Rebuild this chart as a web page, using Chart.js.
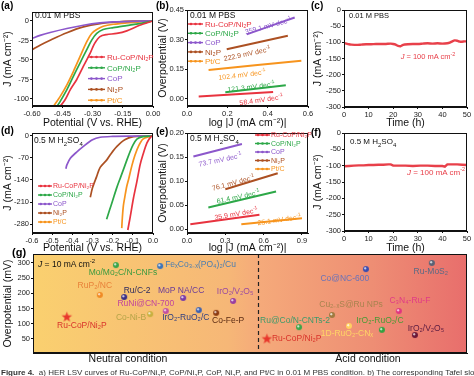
<!DOCTYPE html>
<html><head><meta charset="utf-8">
<script src="https://cdn.jsdelivr.net/npm/chart.js@4.4.1/dist/chart.umd.min.js"></script>
<style>
html,body{margin:0;padding:0;background:#fff;}
body{width:474px;height:376px;overflow:hidden;position:relative;font-family:"Liberation Sans",Arial,sans-serif;}
canvas{position:absolute;}
.t{position:absolute;white-space:nowrap;line-height:1;color:#111;}
.c{transform:translate(-50%,-50%);}
.pl{font-weight:bold;font-size:10px;color:#000;}
</style></head><body>
<script>
// ================= DATA =================
const seriesNames = ['Ru-CoP/Ni₂P', 'CoP/Ni₂P', 'CoP', 'Ni₂P', 'Pt/C'];

// (a) LSV, 0.01 M PBS  [potential (V vs RHE), J (mA cm-2)]
const aRuCoPNi2P = [[0,0],[-0.066,-5.5],[-0.13,-12.7],[-0.18,-16],[-0.23,-17.4],[-0.263,-20],[-0.29,-29],[-0.312,-41.5],[-0.345,-58],[-0.378,-75],[-0.41,-88],[-0.436,-101],[-0.462,-110]];
const aCoPNi2P   = [[0,0],[-0.066,-3.4],[-0.131,-5.9],[-0.197,-8.5],[-0.247,-11],[-0.279,-16],[-0.304,-24.6],[-0.329,-37],[-0.362,-54],[-0.395,-71],[-0.427,-88],[-0.46,-103],[-0.477,-110]];
const aCoP       = [[0,0],[-0.1,-0.4],[-0.2,-1.2],[-0.263,-2.5],[-0.345,-5.5],[-0.427,-9.7],[-0.51,-14.8],[-0.56,-18.5],[-0.6,-22.5]];
const aNi2P      = [[0,0],[-0.1,-0.3],[-0.18,-1.3],[-0.263,-3.4],[-0.345,-7.6],[-0.427,-15],[-0.51,-24.6],[-0.56,-31],[-0.6,-37]];
const aPtC       = [[0,0],[-0.066,-1.3],[-0.131,-2.5],[-0.197,-4.2],[-0.247,-6.8],[-0.279,-11],[-0.304,-16],[-0.329,-26.7],[-0.362,-45.8],[-0.395,-64.8],[-0.427,-81.8],[-0.46,-96.6],[-0.495,-110]];

// (b) Tafel, 0.01 M PBS  [log|J|, overpotential (V)]
const bRuCoPNi2P = [[0.058,0.013],[0.427,0.035]];
const bCoPNi2P   = [[0.19,0.034],[0.49,0.069]];
const bCoP       = [[0.296,0.327],[0.534,0.412]];
const bNi2P      = [[0.197,0.252],[0.50,0.320]];
const bPtC       = [[0.107,0.147],[0.567,0.194]];
const bSlopes    = ['58.4', '121.3', '359.1', '222.9', '102.4'];

// (c) stability, 0.01 M PBS
const cTime = [0,1,2,3,5,7,9,11,13,15,17,19,20,21,22,23,24,26,28,30,32,34,36,38,40,42,43,44,45,46,47,48,49,50];
const cJ    = [-102,-104,-106,-107,-108,-107,-106,-106,-105,-105,-105,-104,-105,-107,-111,-112,-108,-106,-105,-105,-104,-103,-104,-103,-104,-103,-101,-97,-94,-95,-98,-98,-97,-97];

// (d) LSV, 0.5 M H2SO4
const dRuCoPNi2P = [[0,0],[-0.01,-2],[-0.03,-22],[-0.05,-60],[-0.064,-92],[-0.08,-145],[-0.097,-198],[-0.114,-261],[-0.125,-299]];
const dCoPNi2P   = [[0,0],[-0.05,-2],[-0.08,-10],[-0.1,-30],[-0.12,-60],[-0.14,-95],[-0.16,-130],[-0.18,-165],[-0.2,-205],[-0.215,-235],[-0.23,-265]];
const dCoP       = [[0,0],[-0.1,-0.5],[-0.2,-1.5],[-0.262,-4],[-0.3,-12],[-0.345,-33],[-0.38,-52],[-0.41,-71],[-0.427,-92],[-0.432,-104]];
const dNi2P      = [[0,0],[-0.05,-0.5],[-0.097,-2],[-0.14,-12],[-0.18,-34],[-0.21,-58],[-0.229,-76],[-0.262,-100],[-0.28,-130],[-0.3,-165],[-0.311,-195]];
const dPtC       = [[0,0],[-0.02,-2],[-0.05,-10],[-0.07,-30],[-0.09,-62],[-0.105,-95],[-0.12,-135],[-0.13,-160],[-0.14,-195],[-0.147,-222],[-0.152,-260],[-0.155,-293]];

// (e) Tafel, 0.5 M H2SO4
const eRuCoPNi2P = [[0.026,0.010],[0.567,0.0295]];
const eCoPNi2P   = [[0.167,0.045],[0.697,0.078]];
const eCoP       = [[0.05,0.151],[0.43,0.177]];
const eNi2P      = [[0.30,0.083],[0.71,0.116]];
const ePtC       = [[0.425,0.010],[0.90,0.0225]];
const eSlopes    = ['35.9', '61.4', '73.7', '76.1', '25.1'];

// (f) stability, 0.5 M H2SO4
const fTime = [0,2,4,6,8,10,12,14,16,18,19,20,22,25,28,31,34,37,40,41,42,44,46,48,50];
const fJ    = [-102,-101,-100,-99,-99,-98,-98,-97,-97,-96,-96,-100,-100,-100,-101,-100,-100,-101,-101,-103,-96,-96,-96,-97,-98];

// (g) comparison of overpotential at 10 mA cm-2 (x = position index along the panel, 0-100)
const gNeutralNames = ['Ru-CoP/Ni₂P','RuP₂/NC','Mo/Mo₂C/N-CNFs','FeₓCo₃₋ₓ(PO₄)₂/Cu','Ru/C-2','RuNi@CN-700','Co-Ni-B','MoP NA/CC','IrO₂-RuO₂/C','IrO₂/V₂O₅','Co-Fe-P'];
const gNeutralPos   = [7.8, 15.4, 19.1, 29.3, 21.0, 30.6, 27.0, 34.6, 38.2, 46.1, 42.2];
const gNeutralEta   = [122, 195, 293, 290, 188, 142, 132, 185, 145, 175, 136];
const gAcidNames = ['Ru-CoP/Ni₂P','Ru@Co/N-CNTs-2','1D-RuO₂-CNₓ','Cu₂₋ₓS@Ru NPs','IrO₂-RuO₂/C','IrO₂/V₂O₅','C₃N₄-Ru-F','Co@NC-600','Ru-MoS₂'];
const gAcidPos   = [53.9, 61.3, 72.8, 68.9, 80.4, 88.0, 84.3, 76.7, 91.9];
const gAcidEta   = [50, 89, 93, 129, 80, 63, 142, 280, 300];
const gDivider   = 51.8;

// tick values
const aXTicks = [-0.6,-0.45,-0.3,-0.15,0], aYTicks = [0,-25,-50,-75,-100];
const bXTicks = [0,0.2,0.4,0.6], bYTicks = [0,0.15,0.30,0.45];
const cXTicks = [0,10,20,30,40,50], cYTicks = [0,-50,-100,-150,-200,-250,-300];
const dXTicks = [-0.6,-0.5,-0.4,-0.3,-0.2,-0.1,0], dYTicks = [0,-70,-140,-210,-280];
const eXTicks = [0,0.3,0.6,0.9], eYTicks = [0,0.05,0.10,0.15,0.20];
const gYTicks = [50,100,150,200,250,300];

// ================= STYLE =================
const COL = ['#E8333F', '#2DA848', '#8C57CB', '#AC5022', '#F7941D'];
const gNeutralStyle = {
  point: ['#E8372C','#F08A24','#3BA54A','#3D74B8','#3A2F86','#C24FA2','#C8B040','#7A3CA8','#3B5FAE','#9A3FA0','#8C3A12'],
  text:  ['#D9342B','#E8823A','#3B9A3F','#4A7DB0','#2E2A5E','#C0449C','#B5A447','#6A3A98','#2F3E80','#9A4AA0','#5A2A12'],
  off:   [[15,9,'c'],[-5,-9,'c'],[7,8,'c'],[5,-1,'l'],[13,-6,'c'],[-20,-7,'c'],[-4,4,'r'],[-2,-7,'c'],[-13,8,'c'],[2,-9,'c'],[12,8,'c']]
};
const gAcidStyle = {
  point: ['#E8372C','#3BA54A','#FFD060','#A07A40','#33A040','#6A1838','#E03580','#3A4CB0','#5A6275'],
  text:  ['#D9342B','#3E9A6A','#FFD566','#A8834E','#4A9A35','#5A1A40','#E03A86','#6A72B8','#5A6A85'],
  off:   [[5,0,'l'],[-4,-6,'c'],[-2,8,'c'],[19,-10,'c'],[-2,-9,'c'],[11,-6,'c'],[11,-10,'c'],[-21,10,'c'],[-1,9,'c']]
};

Chart.defaults.font.family = '"Liberation Sans", Arial, sans-serif';
Chart.defaults.color = '#222';

// ---------- plugins ----------
Chart.register({
  id: 'frame',
  afterDatasetsDraw(chart) {
    const a = chart.chartArea, c = chart.ctx;
    c.save(); c.strokeStyle = '#111'; c.lineWidth = 1;
    c.strokeRect(Math.round(a.left) + 0.5, Math.round(a.top) + 0.5, Math.round(a.right - a.left) - 1, Math.round(a.bottom - a.top) - 1);
    c.restore();
  }
});
Chart.register({
  id: 'inLegend',
  afterDatasetsDraw(chart, args, o) {
    if (!o || o.x === undefined) return;
    const c = chart.ctx, a = chart.chartArea;
    c.save(); c.font = o.size + 'px "Liberation Sans", Arial, sans-serif'; c.textBaseline = 'middle';
    chart.data.datasets.forEach((d, i) => {
      const y = a.top + o.y + i * o.dy, x0 = a.left + o.x;
      c.strokeStyle = d.borderColor; c.lineWidth = 1.4;
      c.beginPath(); c.moveTo(x0, y); c.lineTo(x0 + o.len, y); c.stroke();
      c.fillStyle = d.borderColor;
      [0.2, 0.5, 0.8].forEach(f => { c.beginPath(); c.arc(x0 + o.len * f, y, 1.3, 0, Math.PI * 2); c.fill(); });
      c.fillText(d.label, x0 + o.len + o.gap, y + 0.5);
    });
    c.restore();
  }
});

function axis(min, max, ticks, fmt, title, extra) {
  return Object.assign({
    type: 'linear', min: min, max: max,
    afterBuildTicks: s => { s.ticks = ticks.map(v => ({ value: v })); },
    ticks: { font: { size: 7.5 }, color: '#222', padding: 1, maxRotation: 0, autoSkip: false, callback: fmt },
    grid: { display: true, drawOnChartArea: false, drawTicks: true, tickLength: 2, color: '#111' },
    border: { display: true, color: '#111', width: 1 },
    title: title ? { display: true, text: title, font: { size: 10.5 }, color: '#111', padding: { top: 2, bottom: 0 } } : { display: false }
  }, extra || {});
}

function makePanel(box, plot, cfg) {
  const cv = document.createElement('canvas');
  cv.width = box[2]; cv.height = box[3];
  cv.style.left = box[0] + 'px'; cv.style.top = box[1] + 'px';
  cv.style.width = box[2] + 'px'; cv.style.height = box[3] + 'px';
  document.body.appendChild(cv);
  const o = cfg.options;
  o.responsive = false; o.animation = false; o.devicePixelRatio = 1;
  o.layout = { padding: { left: 0, bottom: 0, top: plot[1] - box[1], right: box[0] + box[2] - plot[2] } };
  o.scales.x.afterFit = s => { s.height = box[1] + box[3] - plot[3]; };
  o.scales.y.afterFit = s => { s.width = plot[0] - box[0]; };
  o.plugins = Object.assign({ legend: { display: false }, tooltip: { enabled: false } }, o.plugins || {});
  return new Chart(cv.getContext('2d'), cfg);
}

function lines(arrs, width) {
  return arrs.map((d, i) => ({ label: seriesNames[i], data: d, borderColor: COL[i], backgroundColor: COL[i],
    showLine: true, pointRadius: 0, borderWidth: width, tension: 0.3 }));
}
const f2 = v => v.toFixed(2), f1 = v => v.toFixed(1), f0 = v => String(v);

// (a)
makePanel([0, 0, 166, 129], [32, 12, 153, 106], {
  type: 'scatter',
  data: { datasets: lines([aRuCoPNi2P, aCoPNi2P, aCoP, aNi2P, aPtC], 1.7) },
  options: { scales: { x: axis(-0.6, 0, aXTicks, f2, 'Potential (V vs. RHE)'), y: axis(-109, 11.5, aYTicks, f0, 'J (mA cm⁻²)') },
    plugins: { inLegend: { x: 56, y: 45, dy: 10.8, len: 17, gap: 2, size: 8 } } }
});
// (b)
makePanel([155, 0, 166, 129], [187, 10, 308, 106], {
  type: 'scatter',
  data: { datasets: lines([bRuCoPNi2P, bCoPNi2P, bCoP, bNi2P, bPtC], 2) },
  options: { scales: { x: axis(0, 0.6, bXTicks, f1, 'log |J (mA cm⁻²)|'), y: axis(-0.0354, 0.45, bYTicks, f2, 'Overpotential (V)') },
    plugins: { inLegend: { x: 1, y: 14, dy: 9.3, len: 15, gap: 2, size: 8 } } }
});
// (c)
makePanel([310, 0, 164, 129], [344, 10, 467, 107], {
  type: 'scatter',
  data: { datasets: [{ data: cTime.map((t, i) => [t, cJ[i]]), borderColor: '#E8404A', showLine: true, pointRadius: 0, borderWidth: 2.4, tension: 0.2 }] },
  options: { scales: { x: axis(0, 50, cXTicks, f0, 'Time (h)'), y: axis(-300, 0, cYTicks, f0, 'J (mA cm⁻²)') } }
});
// (d)
makePanel([0, 125, 166, 129], [32, 133, 153, 233], {
  type: 'scatter',
  data: { datasets: lines([dRuCoPNi2P, dCoPNi2P, dCoP, dNi2P, dPtC], 1.7) },
  options: { scales: { x: axis(-0.6, 0, dXTicks, f1, 'Potential (V vs. RHE)'), y: axis(-308.6, 9.5, dYTicks, f0, 'J (mA cm⁻²)') },
    plugins: { inLegend: { x: 6, y: 53, dy: 9, len: 14, gap: 1, size: 7 } } }
});
// (e)
makePanel([155, 125, 166, 129], [187, 133, 308, 233], {
  type: 'scatter',
  data: { datasets: lines([eRuCoPNi2P, eCoPNi2P, eCoP, eNi2P, ePtC], 2) },
  options: { scales: { x: axis(0, 0.947, eXTicks, f1, 'log |J (mA cm⁻²)|'), y: axis(-0.0083, 0.20, eYTicks, f2, 'Overpotential (V)') },
    plugins: { inLegend: { x: 68, y: 2, dy: 8.5, len: 15, gap: 1, size: 7 } } }
});
// (f)
makePanel([310, 125, 164, 129], [344, 133, 467, 231], {
  type: 'scatter',
  data: { datasets: [{ data: fTime.map((t, i) => [t, fJ[i]]), borderColor: '#E8404A', showLine: true, pointRadius: 0, borderWidth: 2.4, tension: 0 }] },
  options: { scales: { x: axis(0, 50, cXTicks, f0, 'Time (h)'), y: axis(-300, 0, cYTicks, f0, 'J (mA cm⁻²)') } }
});

// (g)
function ballImg(color, r) {
  const c = document.createElement('canvas'), s = r * 2 + 2; c.width = c.height = s;
  const x = c.getContext('2d');
  const g = x.createRadialGradient(s / 2 - r * 0.35, s / 2 - r * 0.35, 0.3, s / 2, s / 2, r);
  g.addColorStop(0, '#ffffff'); g.addColorStop(0.45, color); g.addColorStop(1, color);
  x.fillStyle = g; x.beginPath(); x.arc(s / 2, s / 2, r, 0, Math.PI * 2); x.fill();
  return c;
}
function starImg(color, r) {
  const c = document.createElement('canvas'), s = Math.ceil(r * 2 + 2); c.width = c.height = s;
  const x = c.getContext('2d'); x.fillStyle = color; x.beginPath();
  for (let i = 0; i < 10; i++) { const rr = i % 2 ? r * 0.42 : r, a = -Math.PI / 2 + i * Math.PI / 5; x.lineTo(s / 2 + rr * Math.cos(a), s / 2 + rr * Math.sin(a)); }
  x.closePath(); x.fill(); return c;
}
function gSet(names, pos, eta, st) {
  return { data: pos.map((p, i) => ({ x: p, y: eta[i] })), names: names, st: st,
    pointStyle: names.map((n, i) => n === 'Ru-CoP/Ni₂P' ? starImg(st.point[i], 5.5) : ballImg(st.point[i], 3)),
    pointRadius: 3, showLine: false };
}
makePanel([0, 240, 474, 120], [33, 254, 467, 353], {
  type: 'scatter',
  data: { datasets: [gSet(gNeutralNames, gNeutralPos, gNeutralEta, gNeutralStyle), gSet(gAcidNames, gAcidPos, gAcidEta, gAcidStyle)] },
  options: {
    scales: {
      x: axis(0, 100, [], f0, null, { ticks: { display: false }, grid: { display: false } }),
      y: axis(3.9, 329.6, gYTicks, f0, 'Overpotential (mV)')
    }
  },
  plugins: [{
    id: 'gBg',
    beforeDatasetsDraw(chart) {
      const a = chart.chartArea, c = chart.ctx;
      const g = c.createLinearGradient(a.left, 0, a.right, 0);
      g.addColorStop(0, '#FAD06F'); g.addColorStop(0.45, '#F6B777'); g.addColorStop(0.52, '#F5AA7A');
      g.addColorStop(0.78, '#EE8E74'); g.addColorStop(1, '#E86E6C');
      c.save(); c.fillStyle = g; c.fillRect(a.left, a.top, a.right - a.left, a.bottom - a.top);
      const xd = Math.round(chart.scales.x.getPixelForValue(gDivider)) + 0.5;
      c.strokeStyle = '#222'; c.lineWidth = 1.2; c.setLineDash([4, 3]);
      c.beginPath(); c.moveTo(xd, a.top); c.lineTo(xd, a.bottom); c.stroke();
      c.restore();
    },
    afterDatasetsDraw(chart) {
      const c = chart.ctx;
      c.save(); c.font = '8.5px "Liberation Sans", Arial, sans-serif'; c.textBaseline = 'middle';
      chart.data.datasets.forEach((ds, di) => {
        const meta = chart.getDatasetMeta(di);
        meta.data.forEach((pt, i) => {
          const o = ds.st.off[i];
          c.fillStyle = ds.st.text[i];
          c.textAlign = o[2] === 'l' ? 'left' : o[2] === 'r' ? 'right' : 'center';
          c.fillText(ds.names[i], pt.x + o[0], pt.y + o[1]);
        });
      });
      c.restore();
    }
  }]
});

// ---------- static annotations ----------
function txt(html, x, y, css, cls) {
  const d = document.createElement('div'); d.className = 't ' + (cls || ''); d.innerHTML = html;
  d.style.cssText += 'left:' + x + 'px;top:' + y + 'px;' + (css || '');
  document.body.appendChild(d); return d;
}
txt('(a)', 1, 1, '', 'pl'); txt('(b)', 156, 1, '', 'pl'); txt('(c)', 311, 1, '', 'pl');
txt('(d)', 1, 126, '', 'pl'); txt('(e)', 156, 127, '', 'pl'); txt('(f)', 311, 128, '', 'pl');
txt('(g)', 12, 247, 'font-size:11px;', 'pl');
txt('0.01 M PBS', 35, 11, 'font-size:8.5px;');
txt('0.01 M PBS', 190, 11, 'font-size:8.5px;');
txt('0.01 M PBS', 349, 12, 'font-size:7.5px;');
txt('0.5 M H<sub style="font-size:6px">2</sub>SO<sub style="font-size:6px">4</sub>', 34, 136, 'font-size:8.5px;');
txt('0.5 M H<sub style="font-size:6px">2</sub>SO<sub style="font-size:6px">4</sub>', 190, 134, 'font-size:8.5px;');
txt('0.5 M H<sub style="font-size:6px">2</sub>SO<sub style="font-size:6px">4</sub>', 350, 138, 'font-size:8px;');
txt('<i>J</i> = 100 mA cm<sup style="font-size:5.5px">-2</sup>', 428, 56, 'font-size:7.5px;color:#E8404A;', 'c');
txt('<i>J</i> = 100 mA cm<sup style="font-size:5.5px">-2</sup>', 436, 172, 'font-size:8px;color:#E8404A;', 'c');
// Tafel slope labels
const bLab = [[261, 99, -8, 0], [251, 86, -7, 1], [268, 25, -15, 2], [247, 53, -12, 3], [242, 74, -7, 4]];
bLab.forEach(l => txt(bSlopes[l[3]] + ' mV dec<sup style="font-size:5px">-1</sup>', l[0], l[1], 'font-size:7px;color:' + COL[l[3]] + ';transform:translate(-50%,-50%) rotate(' + l[2] + 'deg);'));
const eLab = [[236, 213, -10, 0], [238, 196, -12, 1], [220, 159, -12, 2], [233, 182, -15, 3], [279, 219, -8, 4]];
eLab.forEach(l => txt(eSlopes[l[3]] + ' mV dec<sup style="font-size:5px">-1</sup>', l[0], l[1], 'font-size:7px;color:' + COL[l[3]] + ';transform:translate(-50%,-50%) rotate(' + l[2] + 'deg);'));
// (g) annotations
txt('<i>J</i> = 10 mA cm<sup style="font-size:6px">-2</sup>', 38, 258, 'font-size:8.5px;color:#111;');
txt('Neutral condition', 128, 358, 'font-size:10.5px;', 'c');
txt('Acid condition', 368, 358, 'font-size:10.5px;', 'c');
// caption (cut by the bottom edge, as in the reference)
txt('<b>Figure 4.</b>&nbsp; a) HER LSV curves of Ru-CoP/Ni<sub style="font-size:5px">2</sub>P, CoP/Ni<sub style="font-size:5px">2</sub>P, CoP, Ni<sub style="font-size:5px">2</sub>P, and Pt/C in 0.01 M PBS condition. b) The corresponding Tafel slope plots. c)', 1, 369, 'font-size:8px;color:#333;');
</script>
</body></html>
